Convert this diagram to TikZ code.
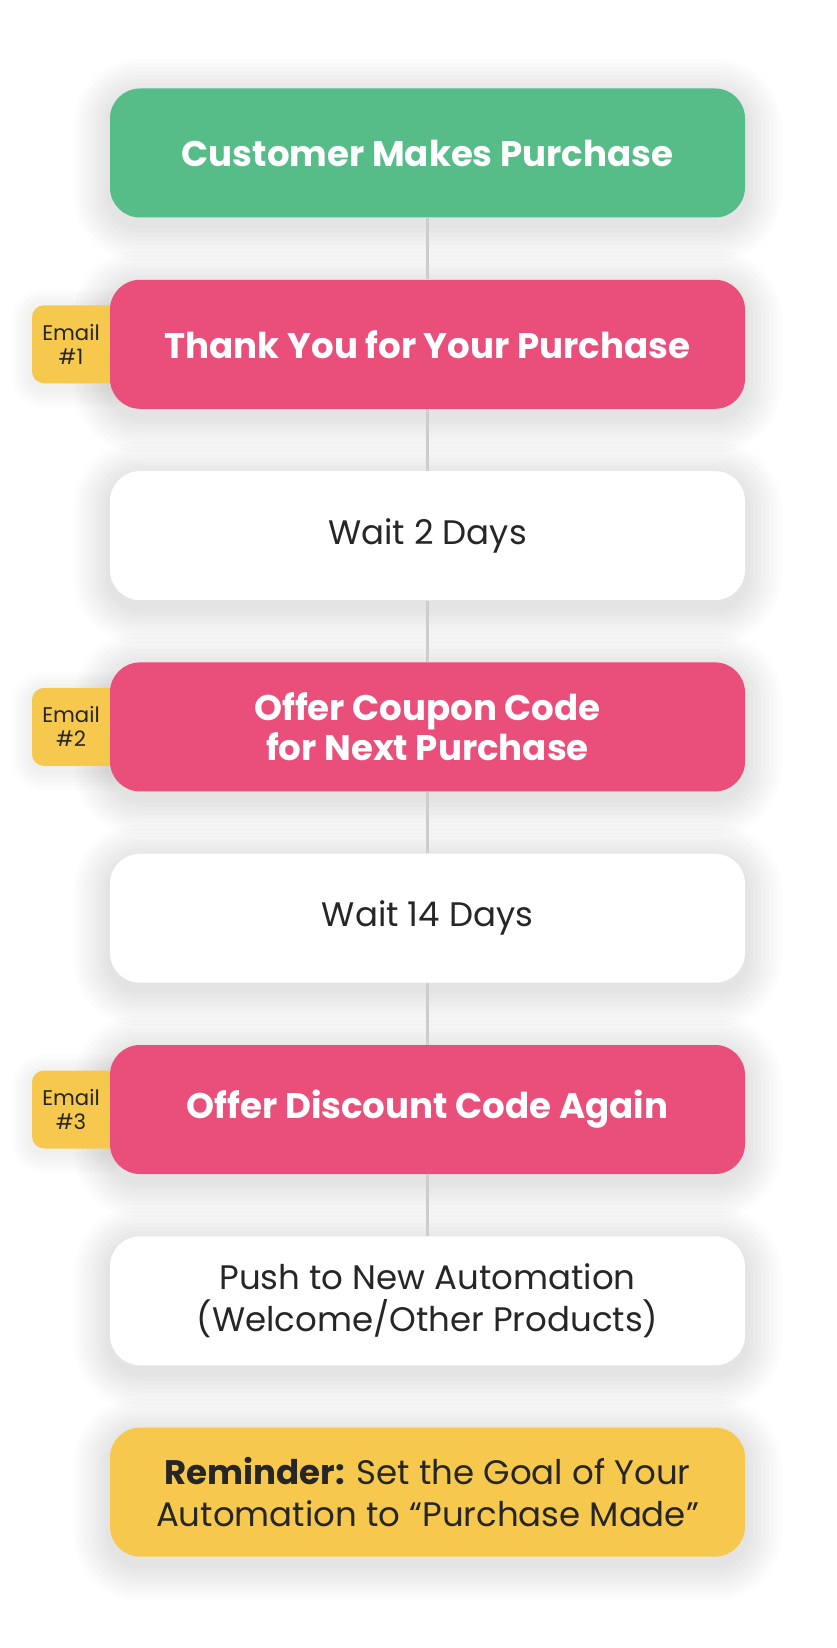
\documentclass[tikz,border=0pt]{standalone}
\usepackage{fontspec}
\setmainfont{Poppins}

\definecolor{buygreen}{HTML}{56BD89}
\definecolor{mailpink}{HTML}{EA4F7B}
\definecolor{noteyellow}{HTML}{F6C94E}
\definecolor{inkdark}{HTML}{262626}
\definecolor{linkgrey}{HTML}{CDCDCD}

\tikzset{
  flowbox/.style={rounded corners=15pt, minimum width=317.5pt, minimum height=64.5pt,
    align=center, inner sep=0pt},
  startbox/.style={flowbox, fill=buygreen, text=white, font=\fontsize{17.8}{20}\selectfont\bfseries},
  mailbox/.style={flowbox, fill=mailpink, text=white, font=\fontsize{17.8}{20}\selectfont\bfseries},
  waitbox/.style={flowbox, fill=white, text=inkdark, font=\fontsize{17}{21}\selectfont},
  notebox/.style={flowbox, fill=noteyellow, text=inkdark, font=\fontsize{17}{21}\selectfont},
  emailtag/.style={fill=noteyellow, rounded corners=6pt, minimum width=54pt, minimum height=39pt},
  tagtext/.style={text=inkdark, align=center, inner sep=0pt, font=\fontsize{10.6}{12}\selectfont},
  link/.style={linkgrey, line width=1.5pt},
  haze/.style={black, opacity=0.01}
}

\begin{document}
\begin{tikzpicture}[x=0.5pt, y=-0.5pt]
  \fill[white] (0,0) rectangle (836,1648);
  \useasboundingbox (0,0) rectangle (836,1648);

  % soft shadows under the boxes
  \foreach \y in {153, 344.3, 535.6, 726.9, 918.2, 1109.5, 1300.8, 1492.1}
    \foreach \r in {1, ..., 9}
    {
      \pgfmathsetmacro\rad{15+\r*2}
      \fill[haze, rounded corners=\rad pt] (110-\r*4, \y-58-\r*4) rectangle (745+\r*4, \y+72+\r*4);
    }
  \foreach \y in {344.3, 726.9, 1109.5}
    \foreach \r in {1, ..., 5}
    {
      \pgfmathsetmacro\rad{6+\r*2}
      \fill[haze, rounded corners=\rad pt] (32-\r*4, \y-35-\r*4) rectangle (140, \y+43+\r*4);
    }

  % email tags sit behind the pink boxes
  \foreach \n/\y in {1/344.3, 2/726.9, 3/1109.5}
  {
    \node[emailtag] (tag\n) at (86,\y) {};
    \node[tagtext] (email\n) at (71,\y) {Email\\\#\n};
  }

  \node[startbox] (buy) at (427.5,153) {Customer Makes Purchase};
  \node[mailbox] (thanks) at (427.5,344.3) {Thank You for Your Purchase};
  \node[waitbox] (wait2) at (427.5,535.6) {Wait 2 Days};
  \node[mailbox] (coupon) at (427.5,726.9) {Offer Coupon Code\\for Next Purchase};
  \node[waitbox] (wait14) at (427.5,918.2) {Wait 14 Days};
  \node[mailbox] (discount) at (427.5,1109.5) {Offer Discount Code Again};
  \node[waitbox] (push) at (427.5,1300.8) {Push to New Automation\\(Welcome/Other Products)};
  \node[notebox] (reminder) at (427.5,1492.1) {\textbf{Reminder:} Set the Goal of Your\\Automation to “Purchase Made”};

  \foreach \a/\b in {buy/thanks, thanks/wait2, wait2/coupon, coupon/wait14, wait14/discount, discount/push}
    \draw[link] (\a) -- (\b);
\end{tikzpicture}
\end{document}
